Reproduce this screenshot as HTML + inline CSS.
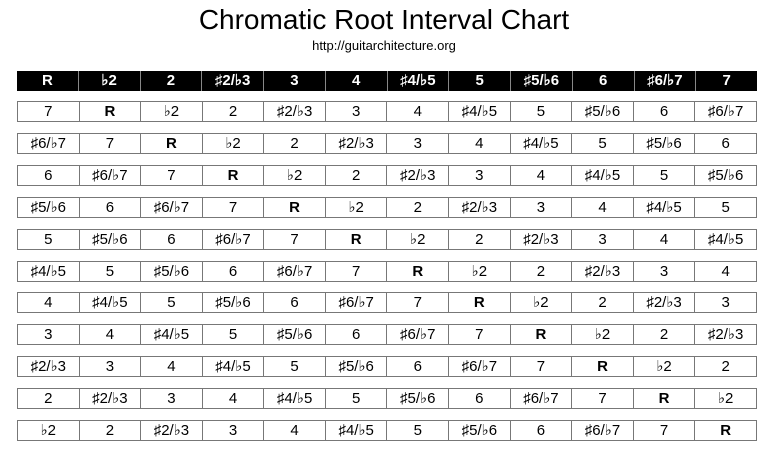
<!DOCTYPE html>
<html><head><meta charset="utf-8"><style>
body{margin:0;width:768px;height:453px;background:#fff;font-family:"Liberation Sans",sans-serif;position:relative;overflow:hidden}
.t{position:absolute;left:0;width:768px;text-align:center;color:#000}
.r{position:absolute;left:17px;width:740px;height:20px;display:flex;box-sizing:border-box}
.r div{flex:1;text-align:center;font-size:15px;line-height:20px;box-sizing:border-box}
.h{background:#000;color:#fff;font-weight:bold}
.h div{border-left:1px solid #888}
.h div:first-child{border-left:none}
.b{border:1px solid #777}
.b div{border-left:1px solid #777}
.b div:first-child{border-left:none}
.b b{font-weight:bold}
</style></head><body>
<div class="t" style="top:4px;font-size:28px">Chromatic Root Interval Chart</div>
<div class="t" style="top:38px;font-size:13px">http://guitarchitecture.org</div>
<div id="c"></div>
<script>
var n=["R","♭2","2","♯2/♭3","3","4","♯4/♭5","5","♯5/♭6","6","♯6/♭7","7"];
var h='<div class="r h" style="top:71px">';
for(var j=0;j<12;j++)h+='<div>'+n[j]+'</div>';
h+='</div>';
for(var i=1;i<=11;i++){
 h+='<div class="r b" style="top:'+(101+(i-1)*31.9)+'px;height:21px">';
 for(var j=0;j<12;j++){var k=((j-i)%12+12)%12;h+='<div>'+(k==0?'<b>R</b>':n[k])+'</div>';}
 h+='</div>';
}
document.getElementById('c').innerHTML=h;
</script>
</body></html>
